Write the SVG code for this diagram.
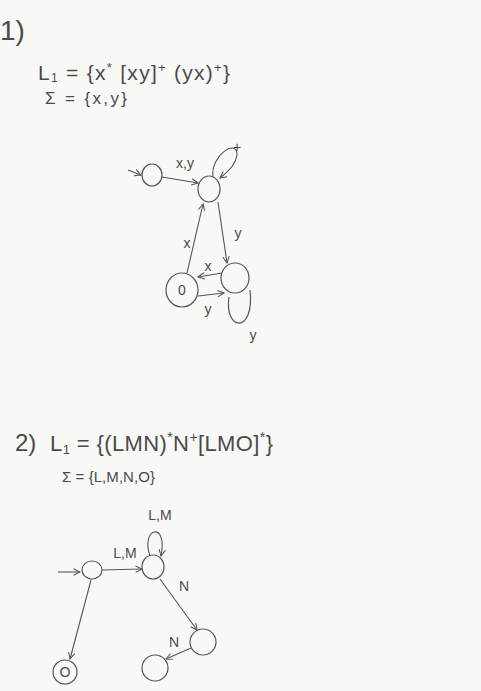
<svg xmlns="http://www.w3.org/2000/svg" width="481" height="691" viewBox="0 0 481 691">
<defs>
<marker id="ah" viewBox="0 0 10 10" refX="9" refY="5" markerWidth="8" markerHeight="8" orient="auto" markerUnits="userSpaceOnUse">
<path d="M1,1 L9,5 L1,9" fill="none" stroke="#555" stroke-width="1.3"/>
</marker>
<style>
.n{fill:none;stroke:#555;stroke-width:1.2}
.e{fill:none;stroke:#555;stroke-width:1.1;marker-end:url(#ah)}
.t{font-family:"Liberation Sans",Arial,sans-serif;fill:#4a4a4a}
.l{font-family:"Liberation Sans",Arial,sans-serif;fill:#4a4a4a;font-size:14px;text-anchor:middle}
</style>
</defs>
<rect width="481" height="691" fill="#f8f8f7"/>

<!-- Part 1 header -->
<text class="t" x="0" y="40" font-size="28">1)</text>
<text class="t" x="38" y="80" font-size="21" textLength="192" lengthAdjust="spacing">L<tspan font-size="12" dy="2">1</tspan><tspan dy="-2"> = {x</tspan><tspan font-size="13" dy="-8">*</tspan><tspan dy="8"> [xy]</tspan><tspan font-size="13" dy="-8">+</tspan><tspan dy="8"> (yx)</tspan><tspan font-size="13" dy="-8">+</tspan><tspan dy="8">}</tspan></text>
<text class="t" x="45" y="104" font-size="17" textLength="82" lengthAdjust="spacing">Σ = {x,y}</text>

<!-- Part 1 nodes -->
<g id="p1n1"><ellipse class="n" cx="152" cy="175" rx="10" ry="11"/></g>
<g id="p1n2"><ellipse class="n" cx="209" cy="189" rx="11" ry="13"/></g>
<g id="p1n3"><ellipse class="n" cx="235" cy="278" rx="14" ry="15"/></g>
<g id="p1n0"><ellipse class="n" cx="182" cy="290" rx="16" ry="17"/><text class="l" x="182" y="295">0</text></g>

<!-- Part 1 connectors -->
<g id="p1edges">
<line class="e" x1="128" y1="170" x2="141" y2="175"/>
<line class="e" x1="162" y1="177" x2="198" y2="183"/>
<text class="l" x="185" y="168">x,y</text>
<path class="e" d="M213,177 C210,155 238,138 237,155 C236,165 228,172 220,178"/>
<text class="l" x="237" y="152">+</text>
<line class="e" x1="218" y1="202" x2="227" y2="263"/>
<text class="l" x="238" y="238" font-size="18">y</text>
<line class="e" x1="187" y1="273" x2="203" y2="204"/>
<text class="l" x="187" y="248" font-size="16">x</text>
<line class="e" x1="222" y1="273" x2="198" y2="277"/>
<text class="l" x="208" y="271">x</text>
<line class="e" x1="198" y1="296" x2="224" y2="293"/>
<text class="l" x="208" y="314" font-size="16">y</text>
<path class="n" d="M229,297 C224,332 255,334 250,290"/>
<text class="l" x="253" y="340" font-size="18">y</text>
</g>

<!-- Part 2 header -->
<text class="t" x="15" y="451" font-size="24">2)</text>
<text class="t" x="50" y="451" font-size="22" textLength="223" lengthAdjust="spacing">L<tspan font-size="13" dy="3">1</tspan><tspan dy="-3"> = {(LMN)</tspan><tspan font-size="14" dy="-9">*</tspan><tspan dy="9">N</tspan><tspan font-size="14" dy="-9">+</tspan><tspan dy="9">[LMO]</tspan><tspan font-size="14" dy="-9">*</tspan><tspan dy="9">}</tspan></text>
<text class="t" x="62" y="482" font-size="15" textLength="93" lengthAdjust="spacing">Σ = {L,M,N,O}</text>

<!-- Part 2 nodes -->
<g id="p2a"><ellipse class="n" cx="92" cy="570" rx="10" ry="9"/></g>
<g id="p2b"><ellipse class="n" cx="153" cy="567" rx="11" ry="12"/></g>
<g id="p2c"><ellipse class="n" cx="203" cy="642" rx="13" ry="13"/></g>
<g id="p2d"><ellipse class="n" cx="155" cy="668" rx="13" ry="13"/></g>
<g id="p2e"><ellipse class="n" cx="65" cy="672" rx="12" ry="12"/><text class="l" x="65" y="677">O</text></g>

<!-- Part 2 connectors -->
<g id="p2edges">
<line class="e" x1="58" y1="572" x2="80" y2="572"/>
<line class="e" x1="102" y1="570" x2="142" y2="569"/>
<text class="l" x="125" y="558">L,M</text>
<path class="e" d="M150,556 C140,528 168,520 161,556"/>
<text class="l" x="160" y="520">L,M</text>
<line class="e" x1="160" y1="579" x2="197" y2="630"/>
<text class="l" x="184" y="591" font-size="15">N</text>
<line class="e" x1="191" y1="648" x2="166" y2="659"/>
<text class="l" x="174" y="647">N</text>
<line class="e" x1="91" y1="580" x2="70" y2="659"/>
</g>
</svg>
